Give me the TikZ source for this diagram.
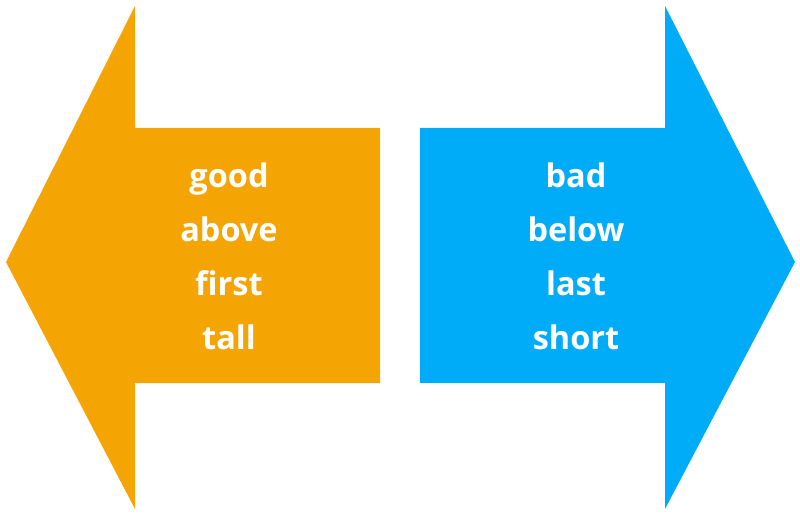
\documentclass[tikz,border=0pt]{standalone}
\usepackage{fontspec}
\setmainfont{Open Sans}[BoldFont={* Bold}]
\definecolor{orangeA}{HTML}{F5A503}
\definecolor{blueA}{HTML}{00ABF7}
\tikzset{
  lbl/.style={text=white, font=\fontsize{32.5}{38}\selectfont\bfseries, anchor=base, inner sep=0pt},
}
\begin{document}
\begin{tikzpicture}[x=1pt,y=-1pt]
\useasboundingbox (0,0) rectangle (800,516);
% orange left arrow
\fill[orangeA] (6,262) -- (135,6) -- (135,128) -- (380,128) -- (380,383) -- (135,383) -- (135,509) -- cycle;
% blue right arrow
\fill[blueA] (795,262) -- (665,6) -- (665,128) -- (420,128) -- (420,383) -- (665,383) -- (665,509) -- cycle;
\node[lbl] (good) at (229,187) {good};
\node[lbl] (above) at (229,241) {above};
\node[lbl] (first) at (229,295) {first};
\node[lbl] (tall) at (229,349) {tall};
\node[lbl] (bad) at (576,187) {bad};
\node[lbl] (below) at (576,241) {below};
\node[lbl] (last) at (576,295) {last};
\node[lbl] (short) at (576,349) {short};
\end{tikzpicture}
\end{document}
